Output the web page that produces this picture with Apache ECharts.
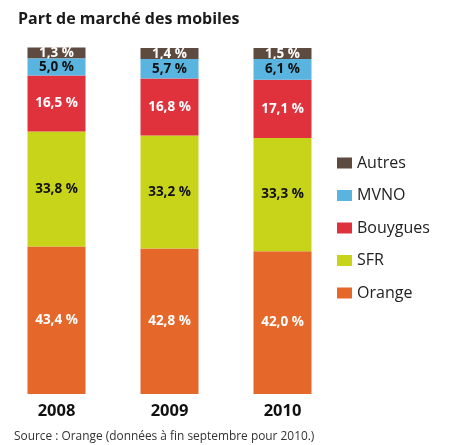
<!DOCTYPE html>
<html>
<head>
<meta charset="utf-8">
<script src="https://cdn.jsdelivr.net/npm/echarts@6/dist/echarts.min.js"></script>
<style>
  html, body { margin: 0; padding: 0; background: #fff; }
  #chart { width: 450px; height: 445px; }
</style>
</head>
<body>
<div id="chart"></div>
<script>
  // années et parts de marché (%)
  const years = ['2008', '2009', '2010'];
  const orange = [43.4, 42.8, 42.0];
  const sfr = [33.8, 33.2, 33.3];
  const bouygues = [16.5, 16.8, 17.1];
  const mvno = [5.0, 5.7, 6.1];
  const autres = [1.3, 1.4, 1.5];
  const legendOrder = ['Autres', 'MVNO', 'Bouygues', 'SFR', 'Orange'];

  const font = '"Open Sans", sans-serif';
  const barW = 58;

  function pct(v) {
    return v.toFixed(1).replace('.', ',') + ' %';
  }

  function serie(name, data, color, labelColor) {
    return {
      name: name,
      type: 'bar',
      stack: 'total',
      barWidth: barW,
      data: data,
      itemStyle: { color: color },
      label: {
        show: true,
        position: 'inside',
        formatter: p => pct(p.value),
        color: labelColor,
        fontFamily: font,
        fontWeight: 'bold',
        fontSize: 13.5
      }
    };
  }

  // "Autres" est trop fin : on le dessine au-dessus de la pile avec une hauteur mini
  const autresData = years.map((y, i) => [i, orange[i] + sfr[i] + bouygues[i] + mvno[i], autres[i]]);

  const myChart = echarts.init(document.getElementById('chart'));
  let option = {
    animation: false,
    title: {
      text: 'Part de marché des mobiles',
      left: 13,
      top: 6,
      textStyle: { fontFamily: font, fontWeight: 'bold', fontSize: 16, color: '#1a1a1a' }
    },
    legend: {
      data: legendOrder,
      orient: 'vertical',
      left: 332,
      top: 150,
      itemWidth: 15,
      itemHeight: 11,
      itemGap: 16.5,
      icon: 'rect',
      textStyle: { fontFamily: font, fontSize: 16, color: '#222' }
    },
    grid: { left: 0, top: 54, width: 339, bottom: 51 },
    xAxis: {
      type: 'category',
      data: years,
      axisLine: { show: false },
      axisTick: { show: false },
      axisLabel: { margin: 9, color: '#111', fontFamily: font, fontWeight: 'bold', fontSize: 16.5 }
    },
    yAxis: { type: 'value', min: 0, max: 100, show: false },
    graphic: [{
      type: 'text',
      left: 14,
      top: 431,
      style: { text: 'Source : Orange (données à fin septembre pour 2010.)', fill: '#333', font: '11.9px ' + font }
    }],
    series: [
      serie('Orange', orange, '#e5682a', '#fff'),
      serie('SFR', sfr, '#c8d41a', '#111'),
      serie('Bouygues', bouygues, '#e0323c', '#fff'),
      serie('MVNO', mvno, '#5ab4e0', '#111'),
      {
        name: 'Autres',
        type: 'custom',
        data: autresData,
        itemStyle: { color: '#5e4b40' },
        encode: { x: 0, y: 1 },
        renderItem: function (params, api) {
          const pt = api.coord([api.value(0), api.value(1)]);
          const h = Math.max(11, pt[1] - api.coord([api.value(0), api.value(1) + api.value(2)])[1]);
          return {
            type: 'group',
            children: [
              {
                type: 'rect',
                shape: { x: pt[0] - barW / 2, y: pt[1] - h, width: barW, height: h },
                style: { fill: '#5e4b40' }
              },
              {
                type: 'text',
                x: pt[0],
                y: pt[1] - h / 2 + 0.5,
                style: {
                  text: pct(api.value(2)),
                  fill: '#fff',
                  font: 'bold 13.5px ' + font,
                  align: 'center',
                  verticalAlign: 'middle'
                }
              }
            ]
          };
        }
      }
    ]
  };

  myChart.setOption(option);
</script>
</body>
</html>
